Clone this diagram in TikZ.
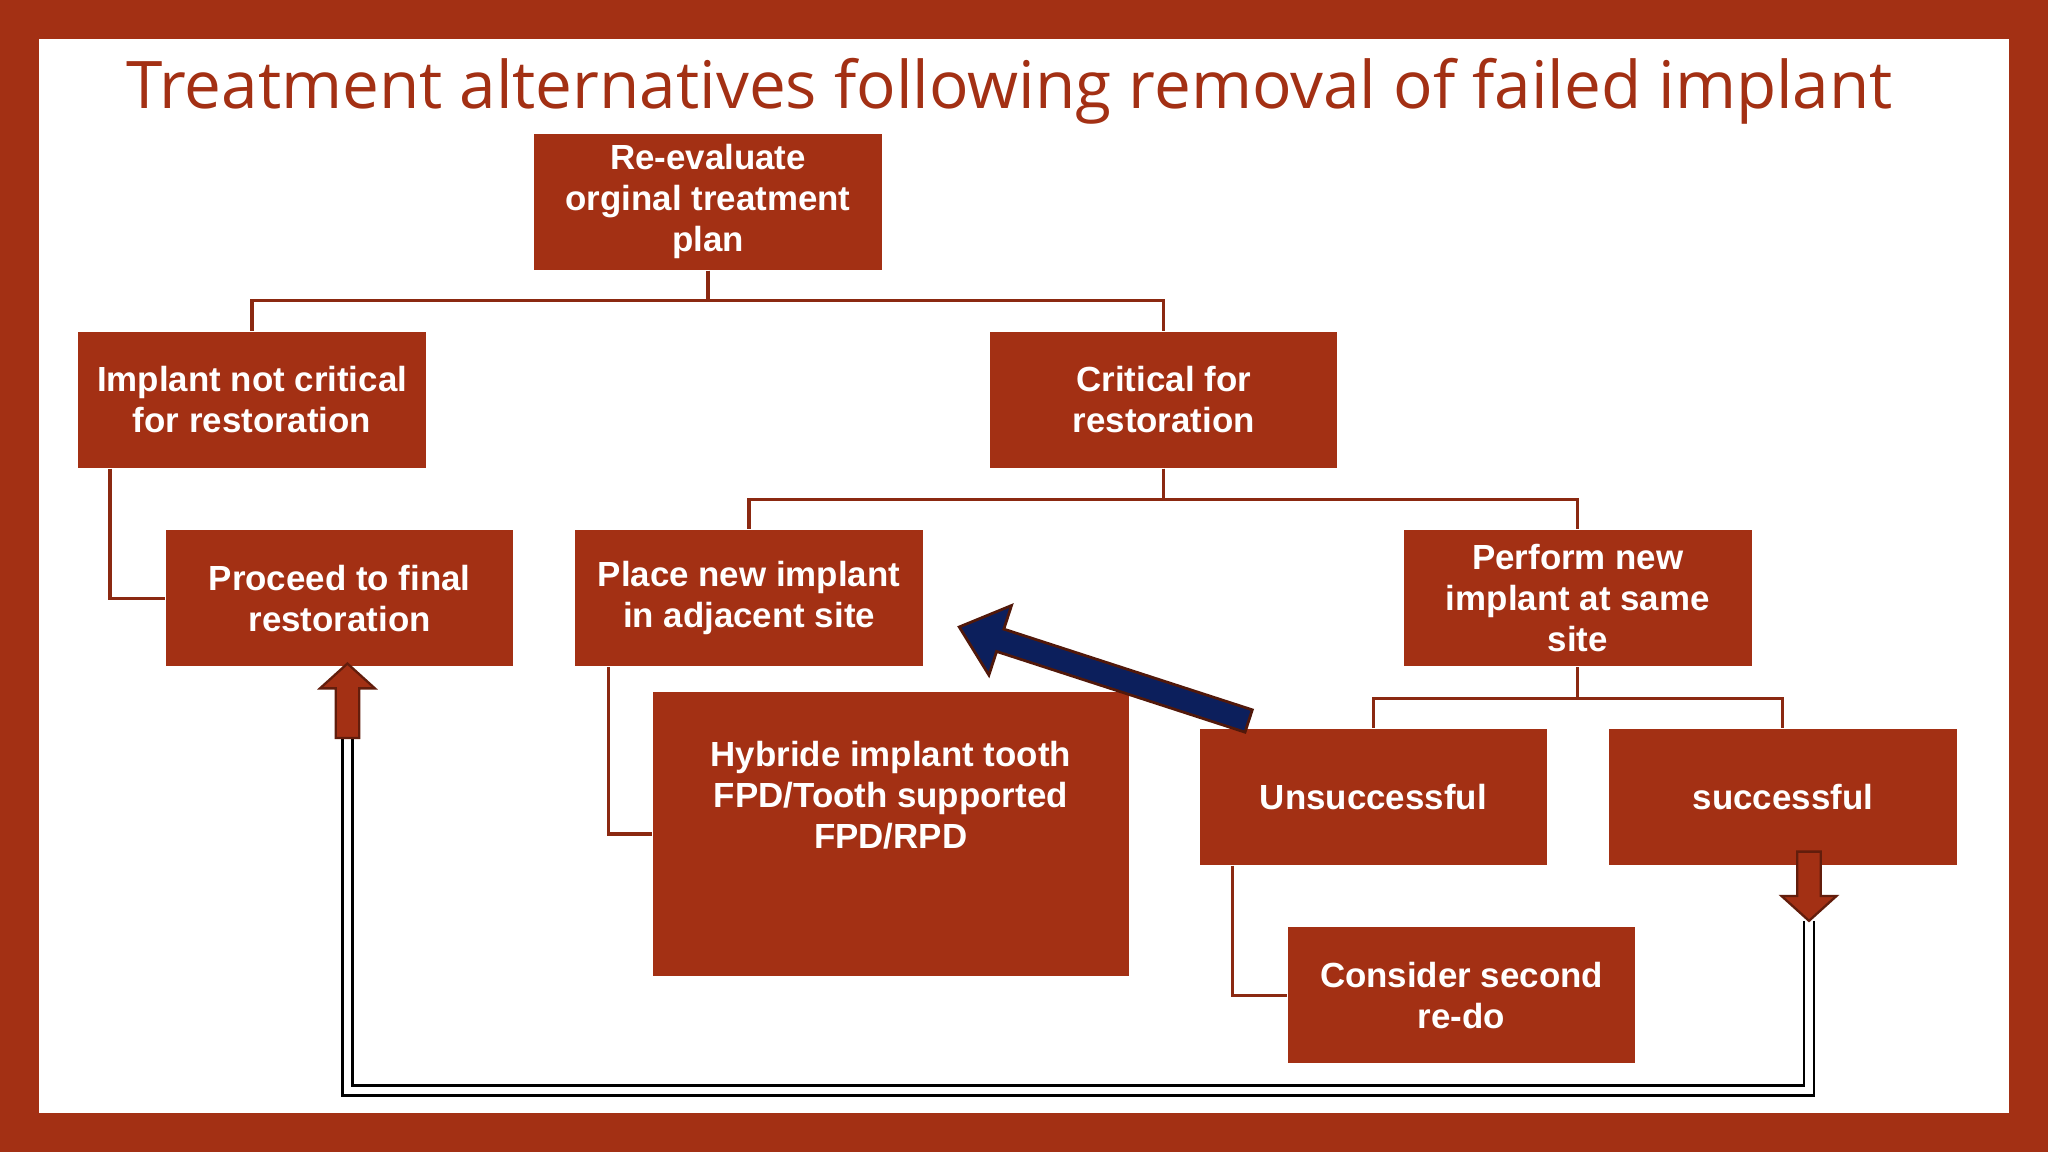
\documentclass[tikz,border=0pt]{standalone}
\usepackage{fontspec}
\setmainfont{Liberation Sans}
\newfontfamily\titlefont{Open Sans}
\usetikzlibrary{positioning,calc}
\definecolor{boxred}{HTML}{A33014}
\definecolor{arrownavy}{HTML}{0C1F5C}
\tikzset{
  box/.style={fill=boxred, text=white, font=\fontsize{7.6}{8.9}\selectfont\bfseries,
    align=center, minimum width=2.66cm, minimum height=1.04cm, inner sep=1pt},
  link/.style={draw=boxred!85!black, line width=0.7pt},
  dbl/.style={double=white, draw=black, double distance=1.6pt, line width=0.6pt}
}
\begin{document}
\begin{tikzpicture}
  \useasboundingbox (0,0) rectangle (15.68,-8.82);
  \fill[boxred] (0,0) rectangle (15.68,-8.82);
  \fill[white] (0.30,-0.30) rectangle (15.38,-8.52);
  \node[text=boxred, font=\titlefont\fontsize{14.3}{17}\selectfont] (title) at (7.73,-0.70)
    {Treatment alternatives following removal of failed implant};

  % boxes
  \node[box] (reeval) at (5.42,-1.545) {Re-evaluate\\orginal treatment\\plan};
  \node[box] (notcrit) at (1.93,-3.06) {Implant not critical\\for restoration};
  \node[box] (crit) at (8.91,-3.06) {Critical for\\restoration};
  \node[box] (proceed) at (2.60,-4.58) {Proceed to final\\restoration};
  \node[box] (place) at (5.735,-4.58) {Place new implant\\in adjacent site};
  \node[box] (perform) at (12.08,-4.58) {Perform new\\implant at same\\site};
  \node[box, minimum width=3.64cm, minimum height=2.17cm, text depth=0.6cm] (hybrid) at (6.82,-6.385)
    {Hybride implant tooth\\FPD/Tooth supported\\FPD/RPD};
  \node[box] (unsucc) at (10.515,-6.10) {Unsuccessful};
  \node[box] (succ) at (13.65,-6.10) {successful};
  \node[box] (second) at (11.19,-7.62) {Consider second\\re-do};

  % tree links
  \draw[link] (reeval.south) -- ++(0,-0.23) -| (notcrit.north);
  \draw[link] (reeval.south) -- ++(0,-0.23) -| (crit.north);
  \draw[link] (crit.south) -- ++(0,-0.24) -| (place.north);
  \draw[link] (crit.south) -- ++(0,-0.24) -| (perform.north);
  \draw[link] (perform.south) -- ++(0,-0.24) -| (unsucc.north);
  \draw[link] (perform.south) -- ++(0,-0.24) -| (succ.north);
  \draw[link] ($(notcrit.south west)+(0.25,0)$) |- (proceed.west);
  \draw[link] ($(place.south west)+(0.26,0)$) |- (hybrid.west);
  \draw[link] ($(unsucc.south west)+(0.26,0)$) |- (second.west);

  % loop back to final restoration
  \coordinate (upfoot) at (2.66,-5.65);
  \coordinate (downtip) at (13.85,-7.05);
  \draw[dbl] (downtip) -- ++(0,-1.30) -| (upfoot);
  \filldraw[fill=boxred, draw=boxred!60!black, line width=0.5pt]
    (2.57,-5.65) -- (2.57,-5.27) -- (2.45,-5.27) -- (2.66,-5.08) -- (2.87,-5.27)
    -- (2.75,-5.27) -- (2.75,-5.65) -- cycle;
  \filldraw[fill=boxred, draw=boxred!60!black, line width=0.5pt]
    (13.76,-6.52) -- (13.76,-6.86) -- (13.64,-6.86) -- (13.85,-7.05) -- (14.06,-6.86)
    -- (13.94,-6.86) -- (13.94,-6.52) -- cycle;

  % arrow from unsuccessful to adjacent site
  \begin{scope}[shift={(9.56,-5.52)}, rotate=162]
    \filldraw[fill=arrownavy, draw=boxred!50!black, line width=0.6pt]
      (0,-0.09) -- (2.0,-0.09) -- (2.0,-0.28) -- (2.33,0) -- (2.0,0.28)
      -- (2.0,0.09) -- (0,0.09) -- cycle;
  \end{scope}
\end{tikzpicture}
\end{document}
